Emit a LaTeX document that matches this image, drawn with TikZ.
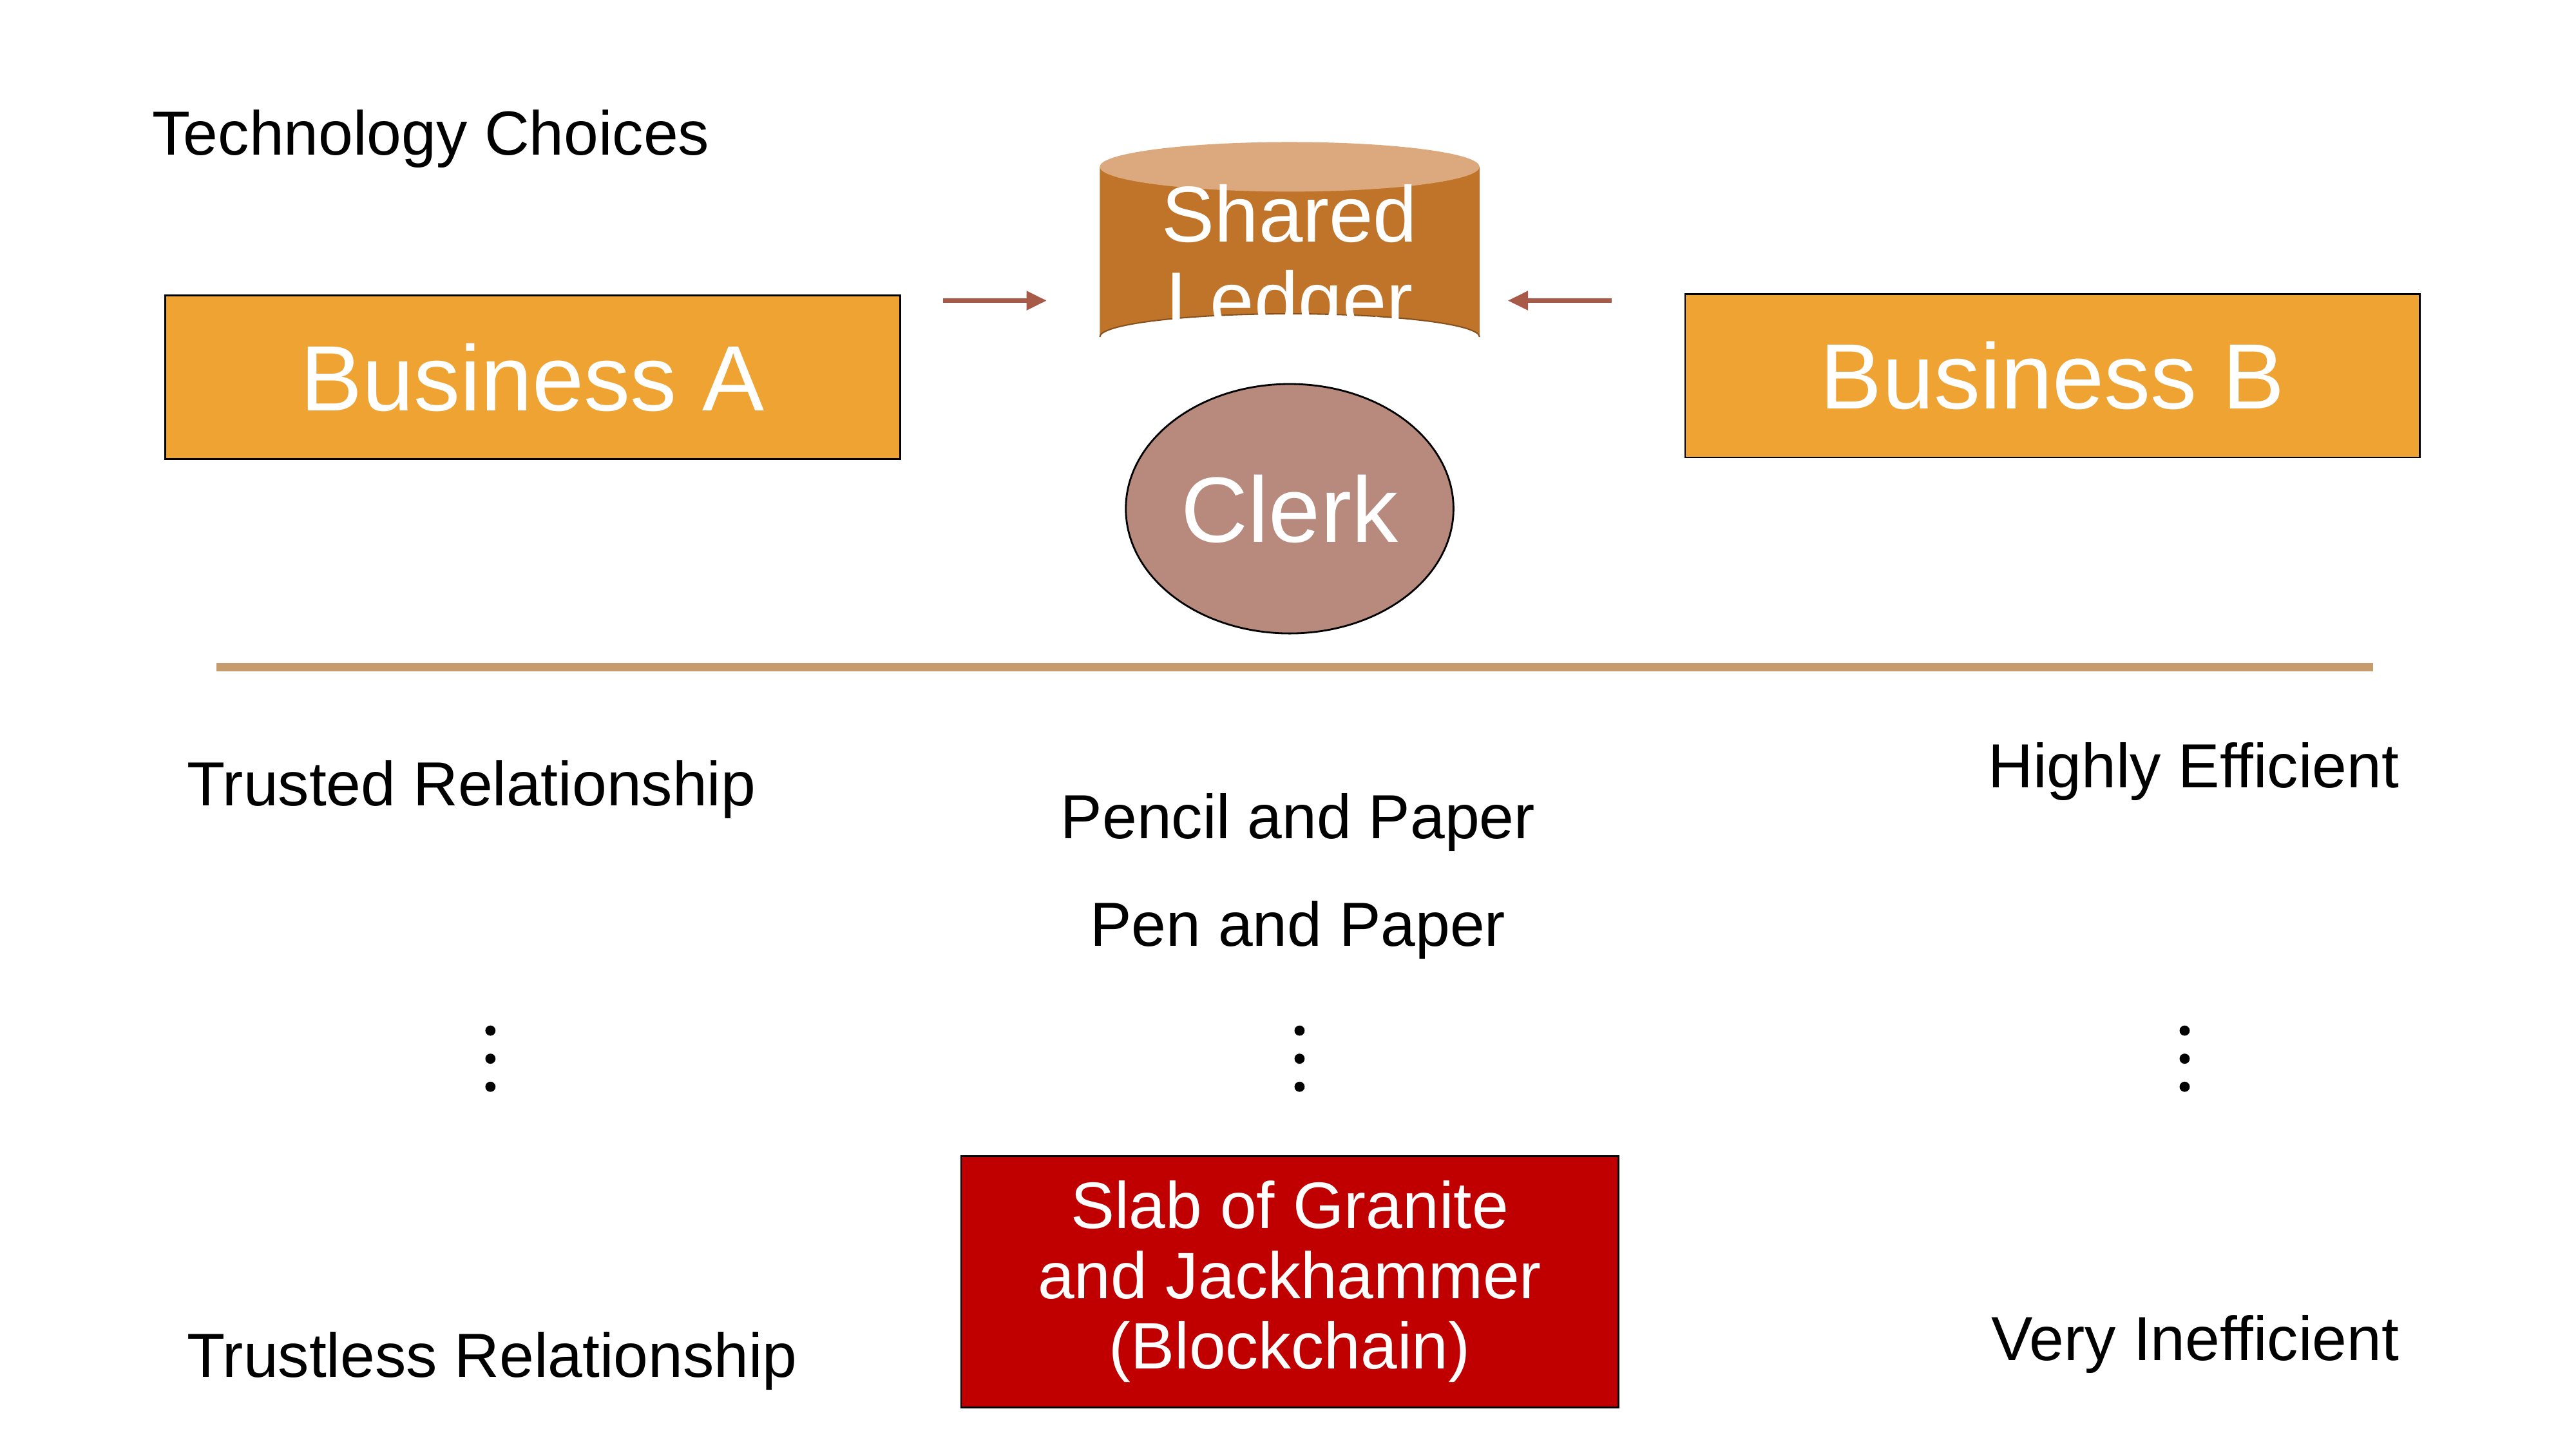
\documentclass[tikz,border=0pt]{standalone}
\usepackage{fontspec}
\setmainfont{Liberation Sans}
\usetikzlibrary{shapes.geometric,arrows.meta}
\definecolor{bizor}{HTML}{EEA333}
\definecolor{ledtop}{HTML}{DBA97D}
\definecolor{ledbody}{HTML}{C0742A}
\definecolor{clerkc}{HTML}{B88A7E}
\definecolor{arr}{HTML}{A85A48}
\definecolor{rule}{HTML}{C69B6E}
\definecolor{redb}{HTML}{C00000}
\tikzset{
  biz/.style={draw=black,line width=0.8pt,fill=bizor,minimum width=445*0.02564cm,minimum height=99*0.02564cm,text=white,font=\fontsize{41}{45}\selectfont},
  lbl/.style={font=\fontsize{27.5}{32}\selectfont,text=black,inner sep=0},
  arw/.style={draw=arr,line width=2.2pt,-{Triangle[length=9pt,width=8pt]}},
  dot/.style={fill=black,circle,inner sep=0,minimum size=4.5pt}
}
\begin{document}
\begin{tikzpicture}[x=0.02564cm,y=-0.02564cm]
\useasboundingbox (0,0) rectangle (1560,877);
\node[lbl,anchor=west] (tc) at (92,84) {Technology Choices};
\node[biz] (ba) at (322.5,228.5) {Business A};
\node[biz] (bb) at (1243,227.5) {Business B};
% cylinder
\fill[ledbody] (666,101) -- (666,204) arc[start angle=180,end angle=360,x radius=115,y radius=14] -- (896,101) -- cycle;
\draw[ledbody!70!black,line width=0.6pt] (666,204) arc[start angle=180,end angle=360,x radius=115,y radius=14];
\fill[ledtop] (781,101) ellipse[x radius=115,y radius=15];
\node[text=white,font=\fontsize{35}{38}\selectfont,align=center,inner sep=0] (led) at (781,160) {Shared\\Ledger};
\coordinate (ledL) at (634,182);
\coordinate (ledR) at (913,182);
\coordinate (aL) at (571,182);
\coordinate (aR) at (976,182);
\draw[arw] (aL) -- (ledL);
\draw[arw] (aR) -- (ledR);
\node[ellipse,draw=black,line width=0.8pt,fill=clerkc,minimum width=180*0.02564cm,minimum height=151*0.02564cm,text=white,font=\fontsize{41}{45}\selectfont] (clerk) at (781,308) {Clerk};
\coordinate (r1) at (131,404);
\coordinate (r2) at (1437,404);
\draw[rule,line width=3.6pt] (r1) -- (r2);
\node[lbl,anchor=west] (t1) at (113,478) {Trusted Relationship};
\node[lbl] (p1) at (786,498) {Pencil and Paper};
\node[lbl] (p2) at (786,563) {Pen and Paper};
\node[lbl,anchor=east] (h1) at (1453,467) {Highly Efficient};
\foreach \x/\n in {297/a,787/b,1323/c}{
  \foreach \y/\m in {624/1,641/2,658/3} \node[dot] (d\n\m) at (\x,\y) {};
}
\node[lbl,anchor=west] (t2) at (113,824) {Trustless Relationship};
\node[lbl,anchor=east] (h2) at (1453,814) {Very Inefficient};
\node[draw=black,line width=0.8pt,fill=redb,minimum width=398*0.02564cm,minimum height=152*0.02564cm,text=white,align=center,font=\fontsize{29}{31}\selectfont] (slab) at (781,776) {Slab of Granite\\and Jackhammer\\(Blockchain)};
\end{tikzpicture}
\end{document}
